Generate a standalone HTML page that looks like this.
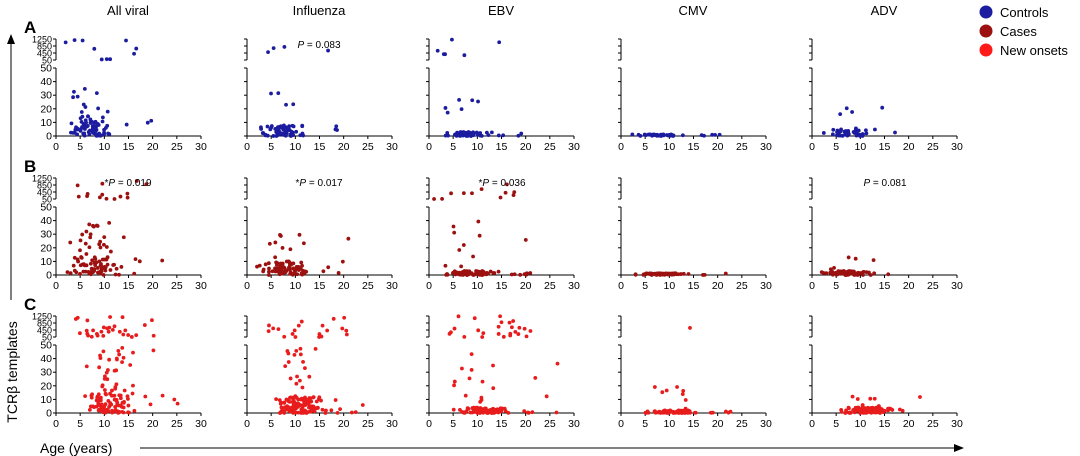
<!DOCTYPE html>
<html><head><meta charset="utf-8">
<style>
html,body{margin:0;padding:0;background:#fff;}
svg{display:block;font-family:"Liberation Sans",Arial,sans-serif;}
</style></head>
<body>
<svg id="s" width="1080" height="456" xmlns="http://www.w3.org/2000/svg"></svg>
<script>
const s=document.getElementById('s');
let h='';
const ox=[56,247,429,621,812];
const base=[136,275,413];
const pw=145;
const cols=['#1c1ca0','#9c1010','#e81c1c'];
const titles=['All viral','Influenza','EBV','CMV','ADV'];
titles.forEach((t,i)=>{h+=`<text x="${ox[i]+72}" y="15" font-size="13" text-anchor="middle">${t}</text>`;});
['A','B','C'].forEach((l,r)=>{h+=`<text x="24" y="${base[r]-103}" font-size="17" font-weight="bold">${l}</text>`;});
[['Controls',cols[0],12],['Cases',cols[1],31],['New onsets','#ff1a1a',50]].forEach(a=>{
h+=`<circle cx="986" cy="${a[2]}" r="6.5" fill="${a[1]}"/><text x="1000" y="${a[2]+5}" font-size="13">${a[0]}</text>`;});
h+=`<line x1="11" y1="300" x2="11" y2="42" stroke="#000" stroke-width="1"/><polygon points="11,34 7,44 15,44" fill="#000"/>`;
h+=`<text transform="translate(17,372) rotate(-90)" font-size="14" text-anchor="middle">TCRβ templates</text>`;
h+=`<text x="40" y="453" font-size="14">Age (years)</text>`;
h+=`<line x1="140" y1="448" x2="956" y2="448" stroke="#000" stroke-width="1"/><polygon points="964,448 954,444 954,452" fill="#000"/>`;
let seed=12345;function rnd(){seed=(seed*16807)%2147483647;return seed/2147483647;}
function yv(r,v){return base[r]-v*68/50;}
function yu(r){return base[r]-76-Math.pow(rnd(),1.8)*21;}
function panel(r,c){
 const x0=ox[c],b=base[r];const bx=x=>x0+x*pw/30;
 h+=`<g stroke="#000" stroke-width="1" fill="none"><path d="M${x0} ${b-68}V${b}H${x0+pw}"/>`;
 for(let k=0;k<=6;k++)h+=`<path d="M${bx(k*5)} ${b}v3"/>`;
 for(let k=0;k<=5;k++)h+=`<path d="M${x0-3} ${b-k*13.6}h3"/>`;
 h+=`<path d="M${x0} ${b-97}V${b-76}"/>`;
 [97,90,83,76].forEach(d=>h+=`<path d="M${x0-3} ${b-d}h3"/>`);
 h+=`</g>`;
 for(let k=0;k<=6;k++)h+=`<text x="${bx(k*5)}" y="${b+14}" font-size="10.5" text-anchor="middle">${k*5}</text>`;
 if(c==0){for(let k=0;k<=5;k++)h+=`<text x="${x0-4}" y="${b-k*13.6+3.5}" font-size="10.5" text-anchor="end">${k*10}</text>`;
  [['1250',97],['850',90],['450',83],['50',76]].forEach(a=>h+=`<text x="${x0-4}" y="${b-a[1]+3.5}" font-size="9" text-anchor="end">${a[0]}</text>`);}
}
for(let r=0;r<3;r++)for(let c=0;c<5;c++)panel(r,c);
function age(amin,amax){return amin+((rnd()+rnd()+rnd())/3)*(amax-amin);}
function pts(r,c,n,amin,amax,lowFn,nUp,tail){
 const x0=ox[c],col=cols[r];
 for(let i=0;i<n;i++){let a=rnd()<0.06?amax+rnd()*(tail||6):age(amin,amax);const v=lowFn();
  h+=`<circle cx="${x0+a*pw/30}" cy="${yv(r,v)}" r="1.9" fill="${col}"/>`;}
 for(let i=0;i<nUp;i++){const a=amin+rnd()*(amax-amin+3);
  h+=`<circle cx="${x0+a*pw/30}" cy="${yu(r)}" r="1.9" fill="${col}"/>`;}
}
const mix=(p,lo,hi,lo2,hi2)=>()=>rnd()<p?lo+Math.pow(rnd(),1.3)*(hi-lo):lo2+rnd()*(hi2-lo2);
pts(0,0,80,0.5,14,mix(0.88,0,15,17,35),10);
pts(0,1,70,0.5,14,mix(0.96,0,8,10,47),4);
pts(0,2,65,0.5,14,mix(0.88,0,3,4,28),6);
pts(0,3,45,0.5,15,()=>rnd()*1.2,0);
pts(0,4,50,0.5,14,mix(0.9,0,5,5,23),0);
pts(1,0,95,0.5,16,mix(0.8,0,14,15,40),14);
pts(1,1,85,0.5,15,mix(0.85,0,10,10,30),0);
pts(1,2,90,0.5,15,mix(0.9,0,3,5,45),11);
pts(1,3,70,0.5,16,()=>rnd()*1.3,0);
pts(1,4,75,0.5,15,mix(0.92,0,3,4,14),0);
pts(2,0,120,4,18,mix(0.72,0,15,15,48),30,9);
pts(2,1,150,4,18,mix(0.85,0,12,12,48),20,9);
pts(2,2,120,4,18,mix(0.85,0,4,5,45),25,9);
pts(2,3,110,4,18,mix(0.95,0,2,3,20),1);
pts(2,4,110,4,18,mix(0.92,0,4,5,16),0);
function pv(x,y,star,val){h+=`<text x="${x}" y="${y}" font-size="10" text-anchor="middle">${star}<tspan font-style="italic">P</tspan> = ${val}</text>`;}
pv(319,48,'','0.083');
pv(128,186,'*','0.019');pv(319,186,'*','0.017');pv(502,186,'*','0.036');pv(885,186,'','0.081');
s.innerHTML=h;
</script>
</body></html>
